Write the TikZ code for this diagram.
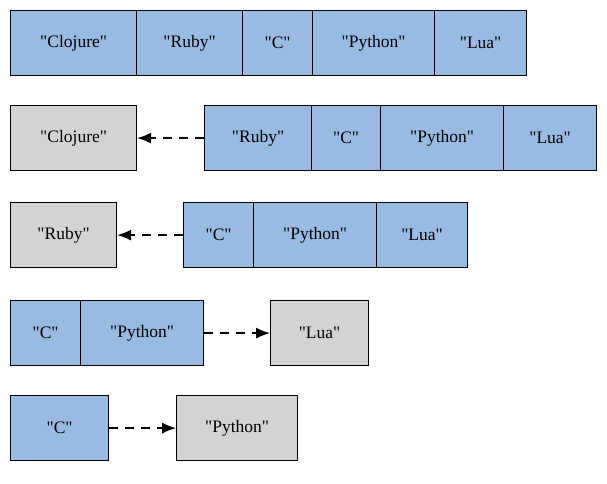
\documentclass[tikz,border=0pt]{standalone}
\usepackage{fontspec}
\setmainfont{Liberation Serif}[Ligatures=TeXReset]
\usetikzlibrary{arrows.meta}
\definecolor{cblue}{HTML}{99BBE2}
\definecolor{cgrey}{HTML}{D3D3D3}
\newcommand\qq[1]{\symbol{34}#1\symbol{34}}
\tikzset{
 cell/.style={draw=black,line width=1.2pt,anchor=north west,minimum height=65pt,inner sep=0pt,font=\fontsize{17.5}{20}\selectfont},
 b/.style={cell,fill=cblue},
 g/.style={cell,fill=cgrey},
 link/.style={dash pattern=on 9pt off 7pt,line width=1.3pt,-{Latex[length=14pt,width=11pt]}}
}
\begin{document}
\begin{tikzpicture}[x=1pt,y=-1pt]
\useasboundingbox (0,0) rectangle (607,483);
% row 1
\node[b,minimum width=126pt] (a1) at (10,10) {\qq{Clojure}};
\node[b,minimum width=106pt] (a2) at (136,10) {\qq{Ruby}};
\node[b,minimum width=70pt] (a3) at (242,10) {\qq{C}};
\node[b,minimum width=122pt] (a4) at (312,10) {\qq{Python}};
\node[b,minimum width=92pt] (a5) at (434,10) {\qq{Lua}};
% row 2
\node[g,minimum width=126pt] (b0) at (10,105) {\qq{Clojure}};
\node[b,minimum width=107pt] (b1) at (204,105) {\qq{Ruby}};
\node[b,minimum width=69pt] (b2) at (311,105) {\qq{C}};
\node[b,minimum width=123pt] (b3) at (380,105) {\qq{Python}};
\node[b,minimum width=93pt] (b4) at (503,105) {\qq{Lua}};
\draw[link] (b1.west) -- (b0.east);
% row 3
\node[g,minimum width=106pt] (c0) at (10,202) {\qq{Ruby}};
\node[b,minimum width=70pt] (c1) at (183,202) {\qq{C}};
\node[b,minimum width=123pt] (c2) at (253,202) {\qq{Python}};
\node[b,minimum width=91pt] (c3) at (376,202) {\qq{Lua}};
\draw[link] (c1.west) -- (c0.east);
% row 4
\node[b,minimum width=70pt] (d1) at (10,300) {\qq{C}};
\node[b,minimum width=123pt] (d2) at (80,300) {\qq{Python}};
\node[g,minimum width=98pt] (d0) at (270,300) {\qq{Lua}};
\draw[link] (d2.east) -- (d0.west);
% row 5
\node[b,minimum width=98pt] (e1) at (10,395) {\qq{C}};
\node[g,minimum width=121pt] (e0) at (176,395) {\qq{Python}};
\draw[link] (e1.east) -- (e0.west);
\end{tikzpicture}
\end{document}
